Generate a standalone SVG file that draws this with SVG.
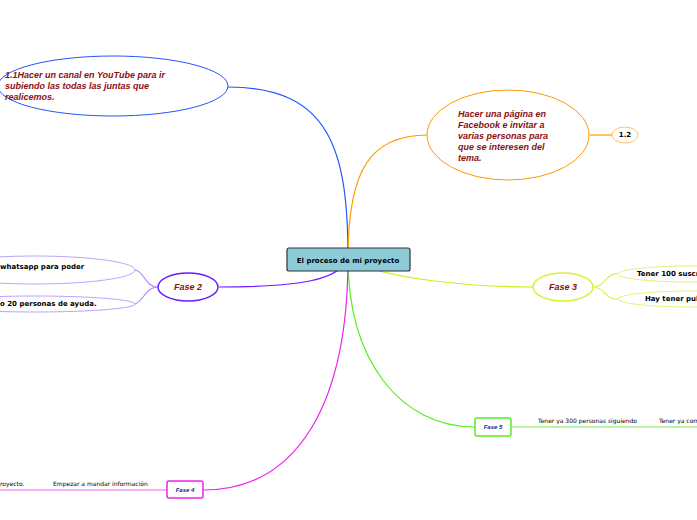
<svg xmlns="http://www.w3.org/2000/svg" width="697" height="520" viewBox="0 0 697 520">
<style>
text{font-family:Verdana,"DejaVu Sans",sans-serif}
.it{font-family:"Liberation Sans",Arial,sans-serif;font-style:italic;font-weight:bold;fill:#8b1010}
.b{font-weight:bold;font-size:7px;fill:#000}
.s{font-size:6px;fill:#000}
.c{fill:none;stroke-width:1.2}
</style>
<rect width="697" height="520" fill="#fff"/>
<g id="connectors">
<path class="c" stroke="#2255ff" d="M348,258 C348,150 330,87 228,87"/>
<path class="c" stroke="#ff9900" d="M348,258 C348,170 370,135 428,135"/>
<path class="c" stroke="#ff9900" d="M590,135 H612"/>
<path class="c" stroke="#6a1bff" d="M348,258 C340,280 300,287 219,287"/>
<path class="c" stroke="#a98bff" d="M158,287 C145,287 145,272 135,270 M158,287 C145,287 145,300 135,304"/>
<path class="c" stroke="#ccee22" d="M348,258 C380,280 480,287 533,287"/>
<path class="c" stroke="#ddee55" d="M593,287 C605,287 605,274 618,273 M593,287 C605,287 605,300 618,299"/>
<path class="c" stroke="#55ee22" d="M348,258 C348,360 400,427 475,427"/>
<path class="c" stroke="#77ee44" d="M511,427 H697"/>
<path class="c" stroke="#ee22ee" d="M348,258 C348,400 300,490 203,490"/>
<path class="c" stroke="#ee66ee" d="M167,490 H0"/>
</g>
<g id="center"><rect x="287" y="248" width="123" height="23" rx="2" fill="#8ecbd9" stroke="#333" stroke-width="1.2"/><text x="348" y="263" text-anchor="middle" class="b" font-size="7">El proceso de mi proyecto</text></g>
<g id="n11"><ellipse cx="113" cy="86" rx="115" ry="30" fill="#fff" stroke="#2255ff"/><text class="it" font-size="9"><tspan x="5" y="78">1.1Hacer un canal en YouTube para ir</tspan><tspan x="5" y="89">subiendo las todas las juntas que</tspan><tspan x="5" y="100">realicemos.</tspan></text></g>
<g id="n1"><ellipse cx="508" cy="135" rx="81" ry="45" fill="#fff" stroke="#ff9900"/><text class="it" font-size="9"><tspan x="458" y="117">Hacer una página en</tspan><tspan x="458" y="128">Facebook e invitar a</tspan><tspan x="458" y="139">varias personas para</tspan><tspan x="458" y="150">que se interesen del</tspan><tspan x="458" y="161">tema.</tspan></text></g>
<g id="n12"><ellipse cx="625" cy="135" rx="13" ry="8" fill="#fff" stroke="#ff9900" stroke-width="0.6"/><text x="625" y="137" text-anchor="middle" class="b" font-size="5">1.2</text></g>
<g id="fase2"><ellipse cx="188" cy="287" rx="30" ry="14" fill="#fff" stroke="#6a1bff" stroke-width="1.5"/><text x="188" y="290" text-anchor="middle" class="it" font-size="9">Fase 2</text></g>
<g id="f2a"><ellipse cx="35" cy="270" rx="100" ry="14" fill="#fff" stroke="#a98bff" stroke-width="0.8"/><text x="0" y="269" class="b">whatsapp para poder</text></g>
<g id="f2b"><ellipse cx="35" cy="304" rx="100" ry="8" fill="#fff" stroke="#a98bff" stroke-width="0.8"/><text x="0" y="306" class="b">o 20 personas de ayuda.</text></g>
<g id="fase3"><ellipse cx="563" cy="287" rx="30" ry="14" fill="#fff" stroke="#ddee33" stroke-width="1.5"/><text x="563" y="290" text-anchor="middle" class="it" font-size="9">Fase 3</text></g>
<g id="f3a"><ellipse cx="690" cy="274" rx="72" ry="8" fill="#fff" stroke="#ddee55" stroke-width="0.8"/><text x="637" y="276" class="b" font-size="5.5">Tener 100 suscriptores</text></g>
<g id="f3b"><ellipse cx="690" cy="299" rx="72" ry="8" fill="#fff" stroke="#ddee55" stroke-width="0.8"/><text x="645" y="301" class="b" font-size="5.5">Hay tener publicaciones</text></g>
<g id="fase5"><rect x="475" y="418" width="36" height="18" rx="2" fill="#fff" stroke="#55ee22" stroke-width="1.5"/><text x="493" y="429" text-anchor="middle" class="it" font-size="6" fill="#222299" style="fill:#222299">Fase 5</text></g>
<g id="f5a"><text x="538" y="423" class="s">Tener ya 300 personas siguiendo</text></g>
<g id="f5b"><text x="659" y="423" class="s">Tener ya comentarios</text></g>
<g id="fase4"><rect x="167" y="481" width="36" height="17" rx="2" fill="#fff" stroke="#ee22ee" stroke-width="1.5"/><text x="185" y="492" text-anchor="middle" class="it" font-size="6" style="fill:#222299">Fase 4</text></g>
<g id="f4a"><text x="53" y="486" class="s">Empezar a mandar información</text></g>
<g id="f4b"><text x="0" y="486" class="s">royecto.</text></g>
</svg>
